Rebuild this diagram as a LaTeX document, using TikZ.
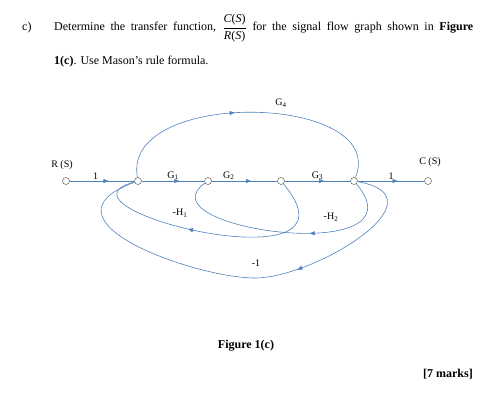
\documentclass[tikz,border=0pt]{standalone}
\usepackage{fontspec}
\setmainfont{Liberation Serif}
\usepackage{amsmath}
\usetikzlibrary{positioning, calc, decorations.markings, arrows.meta}
\definecolor{flowblue}{RGB}{79,129,189}

\begin{document}
\begin{tikzpicture}[x=1pt, y=1pt]
    \tikzstyle{state}=[circle, draw=black!75, fill=white, inner sep=0pt, minimum size=7pt];
    \tikzstyle{gain}=[font=\fontsize{10}{12}\selectfont, inner sep=1pt];
    \tikzstyle{body}=[font=\fontsize{12}{14}\selectfont, inner sep=0pt];
    \tikzset{flow/.style={draw=flowblue, line width=0.6pt, postaction={decorate},
        decoration={markings, mark=at position #1 with {\arrow{Triangle[length=5pt, width=4pt]}}}},
        flow/.default=0.6};

    \useasboundingbox (0, 0) rectangle (503, 413);

    % question text
    \node[body, anchor=base west] (part) at (22, 382) {c)};
    \node[body, anchor=base west] (line1) at (54, 382) {\makebox[419pt][s]{Determine the transfer function, $\dfrac{\mbox{\itshape C\upshape(\itshape S\upshape)}}{\mbox{\itshape R\upshape(\itshape S\upshape)}}$ for the signal flow graph shown in \textbf{Figure}}};
    \node[body, anchor=base west] (line2) at (54, 348) {\textbf{1(c)}. Use Mason's rule formula.};

    % graph nodes
    \node[state] (rs) at (66, 232) {};
    \node[state] (1) at (138, 232) {};
    \node[state] (2) at (208, 232) {};
    \node[state] (3) at (281, 232) {};
    \node[state] (4) at (354, 232) {};
    \node[state] (cs) at (428, 232) {};
    \coordinate (low) at (255, 135);

    \node[gain] (rlab) at (62, 248) {R (S)};
    \node[gain] (clab) at (430, 251) {C (S)};

    % forward path
    \draw (rs) edge[flow] node[gain, above, pos=0.4] {1} (1);
    \draw (1) edge[flow] node[gain, above] {G\textsubscript{1}} (2);
    \draw (2) edge[flow] node[gain, above, pos=0.26] {G\textsubscript{2}} (3);
    \draw (3) edge[flow] node[gain, above] {G\textsubscript{3}} (4);
    \draw (4) edge[flow] node[gain, above] {1} (cs);

    % feed forward and feedback
    \draw (1) edge[flow=0.45, out=100, in=68, looseness=1.07] (4);
    \draw (3) edge[flow=0.6, out=-50, in=195, out distance=140pt, in distance=100pt] (1);
    \draw (4) edge[flow=0.4, out=-50, in=215, out distance=110pt, in distance=80pt] (2);
    \draw[flow=0.37] (4) to[out=-10, in=0, out distance=90pt, in distance=60pt] (low)
        to[out=180, in=200, out distance=60pt, in distance=110pt] (1);

    \node[gain] (g4) at (281, 310) {G\textsubscript{4}};
    \node[gain] (h1) at (180, 200) {-H\textsubscript{1}};
    \node[gain] (h2) at (331, 196) {-H\textsubscript{2}};
    \node[gain] (m1) at (256, 150) {-1};

    % caption
    \node[body, anchor=base] (cap) at (246, 65) {\textbf{Figure 1(c)}};
    \node[body, anchor=base east] (marks) at (473, 35.5) {\textbf{[7 marks]}};
\end{tikzpicture}
\end{document}
